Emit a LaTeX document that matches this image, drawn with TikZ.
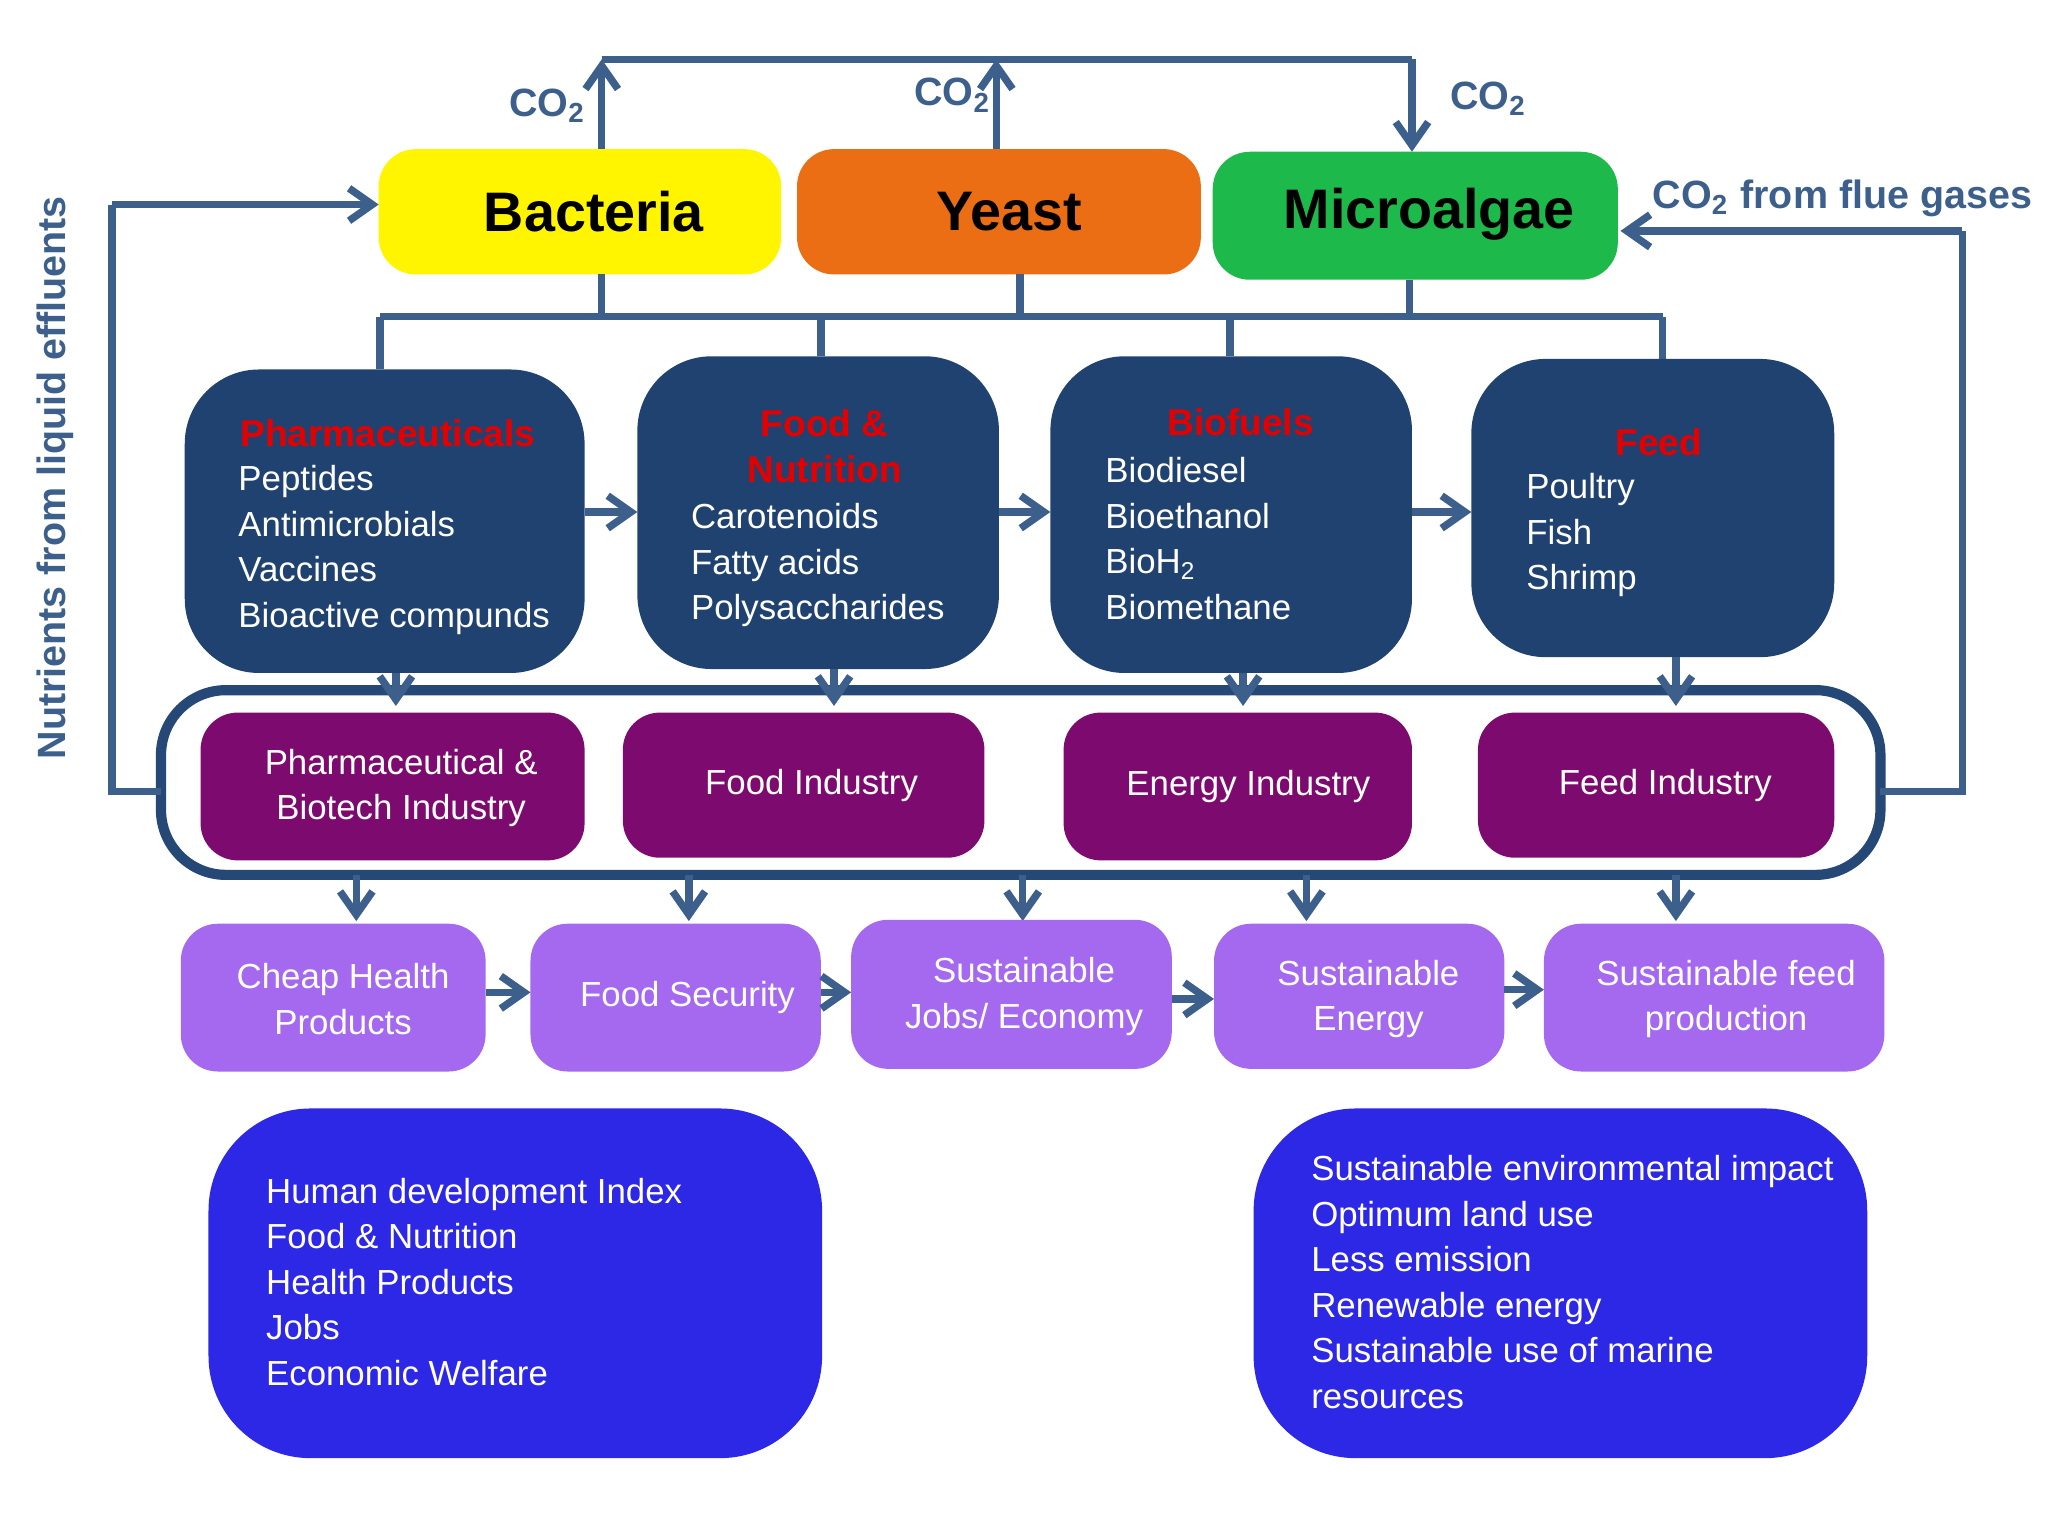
\documentclass[tikz,border=0pt]{standalone}
\usepackage{fontspec}
\setmainfont{Liberation Sans}
\usetikzlibrary{arrows.meta}
\definecolor{dblue}{RGB}{31,66,112}
\definecolor{purp}{RGB}{125,10,110}
\definecolor{lil}{RGB}{165,105,240}
\definecolor{bblue}{RGB}{45,40,230}
\definecolor{ln}{RGB}{60,95,140}
\definecolor{yel}{RGB}{255,245,0}
\definecolor{ora}{RGB}{235,110,20}
\definecolor{grn}{RGB}{30,185,75}
\begin{document}
\begin{tikzpicture}[x=0.01cm,y=-0.01cm,
  org/.style={draw=none,rounded corners=8pt},
  mid/.style={fill=dblue,rounded corners=16pt,text=white,align=left,font=\fontsize{7.5}{9.8}\selectfont,inner sep=0pt},
  ind/.style={fill=purp,rounded corners=8pt,text=white,align=center,font=\fontsize{7.5}{9.8}\selectfont},
  outc/.style={fill=lil,rounded corners=8pt,text=white,align=center,font=\fontsize{7.5}{9.8}\selectfont},
  big/.style={fill=bblue,rounded corners=22pt,text=white,align=left,font=\fontsize{7.5}{9.8}\selectfont},
  con/.style={ln,line width=1.6pt},
  arr/.style={con,-{Straight Barb[length=5pt,width=7pt]}},
  hd/.style={red!90!black,font=\fontsize{8}{10}\selectfont\bfseries},
  orgt/.style={font=\fontsize{12}{14}\selectfont\bfseries},
  lbl/.style={ln,font=\fontsize{8.5}{10}\selectfont\bfseries}]
\useasboundingbox (0,0) rectangle (1552,1164);
% organisms
\path[org,fill=yel] (287,113) rectangle (592,208);
\path[org,fill=ora] (604,113) rectangle (910,208);
\path[org,fill=grn] (919,115) rectangle (1226,212);
\node[orgt] (tb) at (450,160) {Bacteria};
\node[orgt] (ty) at (765,160) {Yeast};
\node[orgt] (tm) at (1083,162) {Microalgae};
\coordinate (b1) at (456,113); \coordinate (y1) at (755,113); \coordinate (m1) at (1070,115);
\coordinate (tl) at (456,45); \coordinate (tm2) at (755,45); \coordinate (tr) at (1070,45);
\draw[con] (tl) -- (tr);
\draw[arr] (b1) -- (tl);
\draw[arr] (y1) -- (tm2);
\draw[arr] (tr) -- (m1);
\node[lbl] (c1) at (415,80) {CO\textsubscript{2}};
\node[lbl] (c2) at (722,72) {CO\textsubscript{2}};
\node[lbl] (c3) at (1128,75) {CO\textsubscript{2}};
\node[lbl,anchor=west] (fl) at (1240,150) {CO\textsubscript{2} from flue gases};
\node[lbl,rotate=90] (nu) at (42,362) {Nutrients from liquid effluents};
% bus
\draw[con] (456,208) -- (456,240) (773,208) -- (773,240) (1068,212) -- (1068,240);
\draw[con] (288,240) -- (1260,240);
\draw[con] (288,240) -- (288,280) (622,240) -- (622,270) (932,240) -- (932,270) (1260,240) -- (1260,272);
% middle
\path[mid] (140,280) rectangle (443,510);
\path[mid] (483,270) rectangle (757,507);
\path[mid] (796,270) rectangle (1070,510);
\path[mid] (1115,272) rectangle (1390,498);
\node[hd] (h1) at (294,328) {Pharmaceuticals};
\node[hd,align=center] (h2) at (625,338) {Food \&\\Nutrition};
\node[hd] (h3) at (940,320) {Biofuels};
\node[hd] (h4) at (1257,335) {Feed};
\node[mid,fill=none,anchor=north west] (t1) at (180,352) {Peptides\\Antimicrobials\\Vaccines\\Bioactive compunds};
\node[mid,fill=none,anchor=north west] (t2) at (523,381) {Carotenoids\\Fatty acids\\Polysaccharides};
\node[mid,fill=none,anchor=north west] (t3) at (837,346) {Biodiesel\\Bioethanol\\BioH\textsubscript{2}\\Biomethane};
\node[mid,fill=none,anchor=north west] (t4) at (1156,358) {Poultry\\Fish\\Shrimp};
\draw[arr] (443,388) -- (483,388);
\draw[arr] (757,388) -- (796,388);
\draw[arr] (1070,388) -- (1115,388);
% frame
\draw[dblue!80!ln,line width=2.2pt,rounded corners=14pt] (122,523) rectangle (1425,663);
\foreach \x/\y in {300/510,632/507,942/510,1270/498} \draw[arr] (\x,\y) -- (\x,535);
\path[ind] (152,540) rectangle (443,652);
\path[ind] (472,540) rectangle (746,650);
\path[ind] (806,540) rectangle (1070,652);
\path[ind] (1120,540) rectangle (1390,650);
\node[ind,fill=none] (i1) at (304,597) {Pharmaceutical \&\\Biotech Industry};
\node[ind,fill=none] (i2) at (615,595) {Food Industry};
\node[ind,fill=none] (i3) at (946,596) {Energy Industry};
\node[ind,fill=none] (i4) at (1262,595) {Feed Industry};
% side loops
\draw[con] (1425,600) -- (1487,600) -- (1487,175);
\draw[arr] (1487,175) -- (1228,175);
\draw[con] (122,600) -- (85,600) -- (85,155);
\draw[arr] (85,155) -- (287,155);
% outcomes
\foreach \x in {270,522,775,990,1270} \draw[arr] (\x,663) -- (\x,698);
\path[outc] (137,700) rectangle (368,812);
\path[outc] (402,700) rectangle (622,812);
\path[outc] (645,697) rectangle (888,810);
\path[outc] (920,700) rectangle (1140,810);
\path[outc] (1170,700) rectangle (1428,812);
\node[outc,fill=none] (o1) at (260,757) {Cheap Health\\Products};
\node[outc,fill=none] (o2) at (521,756) {Food Security};
\node[outc,fill=none] (o3) at (776,755) {Sustainable\\Jobs/ Economy};
\node[outc,fill=none] (o4) at (1037,757) {Sustainable\\Energy};
\node[outc,fill=none] (o5) at (1308,757) {Sustainable feed\\production};
\draw[arr] (368,752) -- (402,752);
\draw[arr] (622,752) -- (645,752);
\draw[arr] (888,757) -- (920,757);
\draw[arr] (1140,750) -- (1170,750);
% bottom
\path[big] (158,840) rectangle (623,1105);
\path[big] (950,840) rectangle (1415,1105);
\node[big,fill=none,anchor=north west,inner sep=0pt] (w1) at (201,892) {Human development Index\\Food \& Nutrition\\Health Products\\Jobs\\Economic Welfare};
\node[big,fill=none,anchor=north west,inner sep=0pt] (w2) at (993,875) {Sustainable environmental impact\\Optimum land use\\Less emission\\Renewable energy\\Sustainable use of marine\\resources};
\end{tikzpicture}
\end{document}
